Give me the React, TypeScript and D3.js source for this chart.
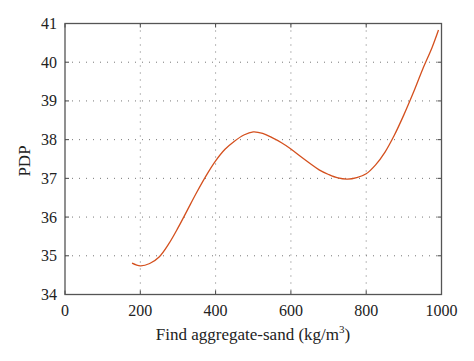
import React from "react";
import * as d3 from "d3";

const xTicks = [0, 200, 400, 600, 800, 1000];
const yTicks = [34, 35, 36, 37, 38, 39, 40, 41];
const sand = [178, 200, 225, 250, 275, 300, 325, 350, 375, 400, 425, 450, 475, 500, 525, 550, 575, 600, 625, 650, 675, 700, 725, 750, 775, 800, 825, 850, 875, 900, 925, 950, 975, 992];
const pdp = [34.81, 34.74, 34.8, 34.97, 35.3, 35.72, 36.18, 36.64, 37.07, 37.45, 37.75, 37.96, 38.12, 38.2, 38.16, 38.05, 37.92, 37.76, 37.57, 37.39, 37.22, 37.1, 37.01, 36.98, 37.02, 37.12, 37.35, 37.68, 38.12, 38.64, 39.21, 39.82, 40.38, 40.83];

const W = 474, H = 361;
const L = 65, R = 441.5, T = 23.5, B = 294.5;
const font = "'Liberation Serif', 'DejaVu Serif', serif";

export default function App() {
  const x = d3.scaleLinear().domain([0, 1000]).range([L, R]);
  const y = d3.scaleLinear().domain([34, 41]).range([B, T]);
  const pts = sand.map((s, i) => [s, pdp[i]] as [number, number]);
  const line = d3.line<[number, number]>().x(d => x(d[0])).y(d => y(d[1])).curve(d3.curveCatmullRom)(pts) || "";
  const tk = 4;
  return (
    <svg width={W} height={H} style={{ position: "absolute", left: 0, top: 0, background: "#fff" }}>
      <rect x={0} y={0} width={W} height={H} fill="#fff" />
      {xTicks.slice(1, -1).map(t => (
        <line key={"gx" + t} x1={x(t)} x2={x(t)} y1={T} y2={B} stroke="#777" strokeWidth={1} strokeDasharray="1,6" />
      ))}
      {yTicks.slice(1, -1).map(t => (
        <line key={"gy" + t} x1={L} x2={R} y1={y(t)} y2={y(t)} stroke="#777" strokeWidth={1} strokeDasharray="1,6" />
      ))}
      {xTicks.map(t => (
        <g key={"tx" + t}>
          <line x1={x(t)} x2={x(t)} y1={B} y2={B - tk} stroke="#444" strokeWidth={1} />
          <line x1={x(t)} x2={x(t)} y1={T} y2={T + tk} stroke="#444" strokeWidth={1} />
          <text x={x(t)} y={B + 21} textAnchor="middle" fontFamily={font} fontSize={16} fill="#222">{t}</text>
        </g>
      ))}
      {yTicks.map(t => (
        <g key={"ty" + t}>
          <line x1={L} x2={L + tk} y1={y(t)} y2={y(t)} stroke="#444" strokeWidth={1} />
          <line x1={R} x2={R - tk} y1={y(t)} y2={y(t)} stroke="#444" strokeWidth={1} />
          <text x={57} y={y(t) + 5.5} textAnchor="end" fontFamily={font} fontSize={16} fill="#222">{t}</text>
        </g>
      ))}
      <rect x={L} y={T} width={R - L} height={B - T} fill="none" stroke="#555" strokeWidth={1.3} />
      <path d={line} fill="none" stroke="#d4501e" strokeWidth={1.3} />
      <text x={253} y={340} textAnchor="middle" fontFamily={font} fontSize={17} fill="#222">
        Find aggregate-sand (kg/m<tspan dy={-7} fontSize={11}>3</tspan><tspan dy={7}>)</tspan>
      </text>
      <text transform={`translate(30, ${(T + B) / 2 + 2}) rotate(-90)`} textAnchor="middle" fontFamily={font} fontSize={17} fill="#222">PDP</text>
    </svg>
  );
}
